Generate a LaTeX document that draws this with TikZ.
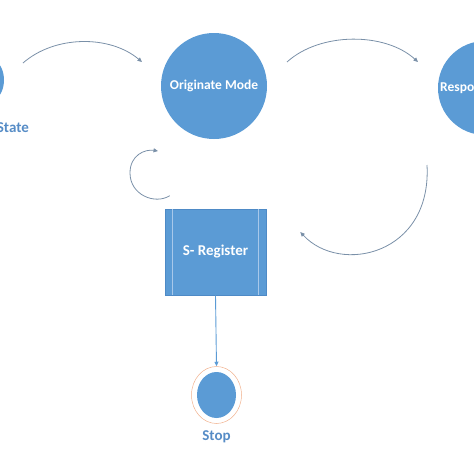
\documentclass[tikz,border=0pt]{standalone}
\usepackage{fontspec}
\setmainfont{Carlito}
\usetikzlibrary{arrows.meta,positioning,calc,shapes.geometric}
\definecolor{stateblue}{RGB}{91,155,213}
\definecolor{edgeblue}{RGB}{78,138,198}
\definecolor{stripe}{RGB}{168,200,234}
\definecolor{labelblue}{RGB}{86,140,198}
\definecolor{flowgray}{RGB}{122,144,168}
\definecolor{ringorange}{RGB}{240,176,140}

\begin{document}
\begin{tikzpicture}[x=1pt,y=-1pt,>={Triangle[length=4.5pt,width=4pt]},
  state/.style={circle,fill=stateblue,inner sep=0pt,text=white,
    font=\bfseries\fontsize{13.5}{16}\selectfont},
  lbl/.style={text=labelblue,font=\bfseries\fontsize{15}{18}\selectfont,inner sep=0pt},
  flow/.style={->,draw=flowgray,line width=0.8pt}]
  \useasboundingbox (0,0) rectangle (474,474);
  \clip (0,0) rectangle (474,474);
  % states
  \node[state,minimum size=60pt] (init) at (-26,80) {};
  \node[lbl,anchor=east] (initlbl) at (29,127) {Initial State};
  \node[state,minimum size=106pt] (orig) at (214,86) {Originate Mode};
  \node[state,minimum size=94pt] (resp) at (485,88) {Response Mode};
  \node[fill=stateblue,draw=edgeblue,line width=0.6pt,minimum width=101pt,
    minimum height=86pt,text=white,font=\bfseries\fontsize{15}{18}\selectfont]
    (reg) at (215.5,252) {S- Register};
  \draw[stripe,line width=0.6pt] ($(reg.north west)+(8,0)$) -- ($(reg.south west)+(8,0)$);
  \draw[stripe,line width=0.6pt] ($(reg.north east)+(-8,0)$) -- ($(reg.south east)+(-8,0)$);
  \node[ellipse,draw=ringorange,line width=0.5pt,minimum width=50pt,minimum height=57pt,
    inner sep=0pt] (stopring) at (216.5,395) {};
  \node[ellipse,fill=stateblue,minimum width=39pt,minimum height=46pt,inner sep=0pt]
    (stop) at (stopring) {};
  \node[lbl,below=7pt of stopring] (stoplbl) {Stop};
  % transitions
  \coordinate (a1s) at ($(init)+(49,-17)$);
  \coordinate (a1e) at ($(orig)+(-72,-24)$);
  \draw[flow] (a1s) .. controls (55,35) and (110,35) .. (a1e);
  \coordinate (a2s) at ($(orig)+(73,-24)$);
  \coordinate (a2e) at ($(resp)+(-67,-26)$);
  \draw[flow] (a2s) .. controls (320,32) and (385,32) .. (a2e);
  \coordinate (ls) at ($(reg.north west)+(5,-13)$);
  \coordinate (le) at ($(orig)+(-56,65)$);
  \draw[flow] (ls) .. controls (155,205) and (130,195) .. (130,173)
    .. controls (130,155) and (145,149) .. (le);
  \coordinate (bs) at ($(resp)+(-58,77)$);
  \coordinate (be) at ($(reg.east)+(34,-20)$);
  \draw[flow] (bs) .. controls (432,255) and (340,275) .. (be);
  \draw[->,draw=stateblue,line width=0.9pt] (reg.south) -- (stopring.north);
\end{tikzpicture}
\end{document}
